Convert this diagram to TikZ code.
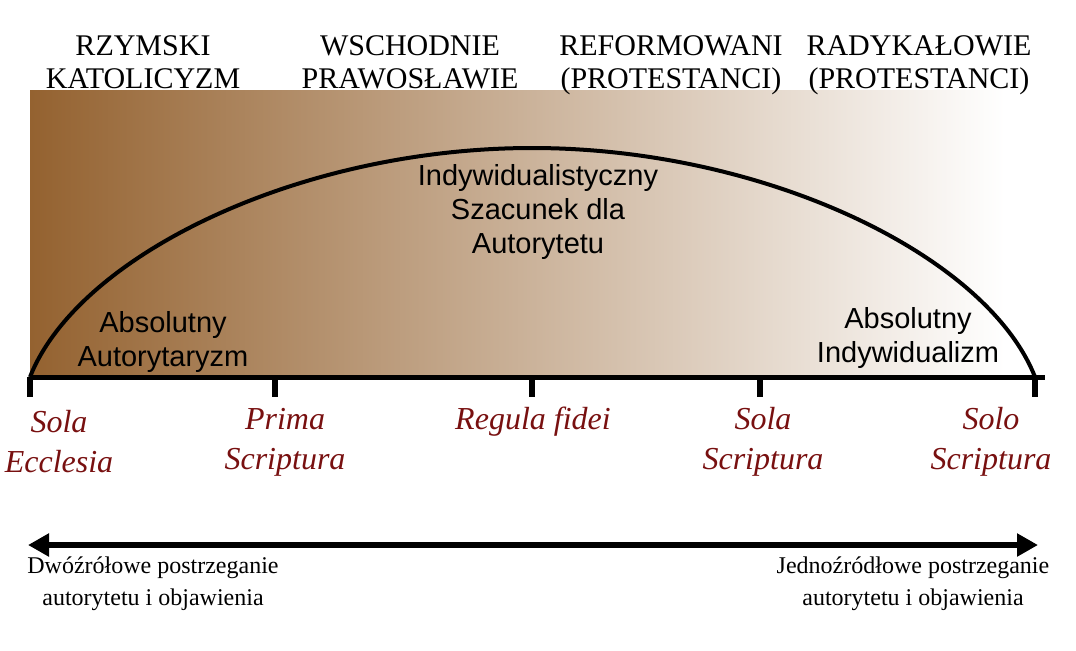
\documentclass[tikz,border=0pt]{standalone}
\usepackage{fontspec}
\setmainfont{Liberation Serif}
\newfontfamily\sansf{Liberation Sans}
\usetikzlibrary{arrows.meta, positioning}
\definecolor{brownl}{RGB}{148,98,48}
\definecolor{brownm}{RGB}{212,196,186}
\definecolor{darkred}{RGB}{120,16,16}
\tikzstyle{head}=[font=\fontsize{15}{16.5}\selectfont, align=center, inner sep=0pt, anchor=base]
\tikzstyle{inner}=[font=\sansf\fontsize{14.5}{17}\selectfont, align=center, inner sep=0pt]
\tikzstyle{scrip}=[font=\itshape\fontsize{16}{20}\selectfont, text=darkred, align=center, inner sep=0pt]
\tikzstyle{note}=[font=\fontsize{12}{16}\selectfont, align=center, inner sep=0pt]
\tikzstyle{tickline}=[line width=3pt]

\begin{document}
\begin{tikzpicture}[x=0.5pt, y=-0.5pt]
\useasboundingbox (0,0) rectangle (1076,650);
\shade[left color=brownl, middle color=brownm, right color=white] (30,90) rectangle (1005,377);
\coordinate (t1) at (30,377); \coordinate (t2) at (275,377); \coordinate (t3) at (532,377);
\coordinate (t4) at (760,377); \coordinate (t5) at (1035,377);
\coordinate (axend) at (1045,377); \coordinate (top) at (532,148);
\coordinate (al) at (28,545); \coordinate (ar) at (1038,545);
% column heads
\node[head] (rzym) at (143,88) {RZYMSKI\\KATOLICYZM};
\node[head] (wsch) at (410,88) {WSCHODNIE\\PRAWOSŁAWIE};
\node[head] (refo) at (671,88) {REFORMOWANI\\(PROTESTANCI)};
\node[head] (rady) at (919,88) {RADYKAŁOWIE\\(PROTESTANCI)};
% arc and axis
\draw[line width=2pt] (t1) .. controls (78,255) and (300,148) .. (top)
  .. controls (764,148) and (987,255) .. (t5);
\draw[line width=2.5pt] (t1) -- (axend);
\foreach \t in {t1,t2,t3,t4,t5} \draw[tickline] (\t) -- ++(0,20);
\node[inner] (indyw) at (538,212) {Indywidualistyczny\\Szacunek dla\\Autorytetu};
\node[inner] (autor) at (163,342) {Absolutny\\Autorytaryzm};
\node[inner] (indiv) at (908,338) {Absolutny\\Indywidualizm};
% positions
\node[scrip] (eccl) at (59,442) {Sola\\Ecclesia};
\node[scrip] (prim) at (285,442) {Prima\\Scriptura};
\node[scrip] (regu) at (533,422) {Regula fidei};
\node[scrip] (sola) at (763,442) {Sola\\Scriptura};
\node[scrip] (solo) at (991,442) {Solo\\Scriptura};
% bottom arrow
\draw[line width=3pt, {Triangle[length=10.5pt,width=11pt]}-{Triangle[length=10.5pt,width=11pt]}] (al) -- (ar);
\node[note] (dwu) at (153,584) {Dwóźrółowe postrzeganie\\autorytetu i objawienia};
\node[note] (jedn) at (913,584) {Jednoźródłowe postrzeganie\\autorytetu i objawienia};
\end{tikzpicture}
\end{document}
